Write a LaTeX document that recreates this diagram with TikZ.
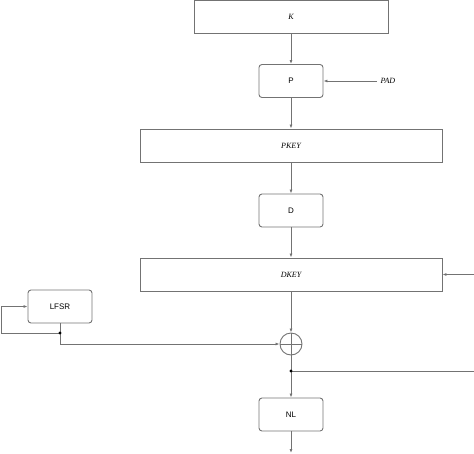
\documentclass[tikz,border=0pt]{standalone}
\usepackage{fontspec}
\setmainfont{Liberation Serif}
\setsansfont{Liberation Sans}
\usetikzlibrary{arrows.meta}

\begin{document}
\begin{tikzpicture}[x=1pt,y=-1pt,>={Latex[length=4pt,width=3pt]},
  line/.style={draw=gray!90!black,line width=0.9pt},
  keybox/.style={line,minimum width=#1,minimum height=33pt,inner sep=0pt,font=\fontsize{8}{9}\selectfont\itshape},
  opbox/.style={line,rounded corners=3pt,minimum width=64pt,minimum height=33pt,inner sep=0pt,font=\fontsize{8}{9}\selectfont\sffamily},
  xorop/.style={line,circle,minimum size=22pt,inner sep=0pt,
    path picture={\draw[gray!90!black,line width=0.9pt] (path picture bounding box.north) -- (path picture bounding box.south)
      (path picture bounding box.west) -- (path picture bounding box.east);}},
  dot/.style={fill=black}]
\useasboundingbox (0,0) rectangle (474,453);
\node [keybox=194pt] (k) at (291,17) {K};
\node [opbox] (p) at (291,81) {P};
\node [font=\fontsize{8}{9}\selectfont\itshape] (pad) at (388,81) {PAD};
\node [keybox=302pt] (pkey) at (291,145.5) {PKEY};
\node [opbox] (d) at (291,210.5) {D};
\node [keybox=302pt] (dkey) at (291,274.5) {DKEY};
\node [opbox] (lfsr) at (60,306.5) {LFSR};
\node [xorop] (xor) at (291,344) {};
\node [opbox] (nl) at (291,414.5) {NL};
\coordinate (din) at (474,274.5);
\coordinate (fb) at (1,333);
\coordinate (tap) at (60,333);
\coordinate (split) at (291,371);
\coordinate (out) at (474,371);
\coordinate (ks) at (291,453);
% key schedule
\draw [line,->] (k) -- (p);
\draw [line,->] (pad) -- (p);
\draw [line,->] (p) -- (pkey);
\draw [line,->] (pkey) -- (d);
\draw [line,->] (d) -- (dkey);
\draw [line,->] (din) -- (dkey);
\draw [line,->] (dkey) -- (xor);
% lfsr
\draw [line] (lfsr) -- (tap);
\draw [line,->] (tap) -- (fb) |- (lfsr.west);
\draw [line,->] (tap) |- (xor.west);
\draw [line] (xor) -- (split);
\draw [line] (split) -- (out);
\draw [line,->] (split) -- (nl);
\draw [line,->] (nl) -- (ks);
\fill [dot] (tap) circle (1.7pt) (split) circle (1.7pt);
\end{tikzpicture}
\end{document}
